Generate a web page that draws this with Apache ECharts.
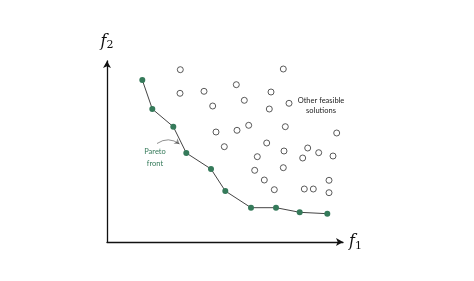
<!DOCTYPE html>
<html>
<head>
<meta charset="utf-8">
<script src="https://cdn.jsdelivr.net/npm/echarts@6/dist/echarts.min.js"></script>
<style>
  html, body { margin: 0; padding: 0; background: #fff; }
  #chart { width: 474px; height: 281px; }
</style>
</head>
<body>
<div id="chart"></div>
<script>
// pareto front points (f1, f2)
const paretoF1 = [35.3, 45.3, 66.3, 79.3, 104, 118.3, 144, 169, 192.7, 220.3];
const paretoF2 = [162, 133, 115.3, 89, 73, 51, 34.3, 34.3, 29.7, 28.3];

// other feasible (dominated) solutions
const otherF1 = [73.3, 176.3, 129.3, 73, 97, 164, 137.3, 182, 105.7, 162.3, 141.7, 130, 178.3, 109, 229.7,
  159.7, 117.3, 200.7, 211.7, 177, 150.3, 195.7, 226, 176.3, 147.7, 157.3, 222, 167.3, 197.3, 206.3, 222];
const otherF2 = [172.3, 173, 157.3, 148.7, 150.7, 150, 141.7, 138.7, 136, 133, 116.7, 111.7, 115.3, 110, 109,
  99, 95.3, 94, 89.3, 91, 85.3, 84, 86, 74.3, 71.7, 62, 61.7, 52.3, 53, 53, 49.3];

// annotation arrow from label to the front
const arrowFrom = [50, 98.5];
const arrowTo = [72.5, 98];

const green = '#357a5a';

const chart = echarts.init(document.getElementById('chart'));

const zip = (a, b) => a.map((v, i) => [v, b[i]]);

const option = {
    animation: false,
    backgroundColor: '#fff',
    grid: { left: 107, right: 131, top: 61, bottom: 39 },
    xAxis: {
        type: 'value', min: 0, max: 236,
        axisLine: { show: true, symbol: ['none', 'arrow'], symbolSize: [6, 7], lineStyle: { color: '#111', width: 1.3 } },
        axisTick: { show: false }, axisLabel: { show: false }, splitLine: { show: false },
        name: '{f|f}{s|1}', nameLocation: 'end', nameGap: 6,
        nameTextStyle: {
            rich: {
                f: { fontFamily: 'DejaVu Serif', fontStyle: 'italic', fontSize: 16, color: '#111' },
                s: { fontFamily: 'DejaVu Serif', fontSize: 11, color: '#111', verticalAlign: 'bottom', padding: [8, 0, 0, 0] }
            }
        }
    },
    yAxis: {
        type: 'value', min: 0, max: 181,
        axisLine: { show: true, symbol: ['none', 'arrow'], symbolSize: [6, 7], lineStyle: { color: '#111', width: 1.3 } },
        axisTick: { show: false }, axisLabel: { show: false }, splitLine: { show: false },
        name: '{f|f}{s|2}', nameLocation: 'end', nameGap: 10,
        nameTextStyle: {
            align: 'center',
            rich: {
                f: { fontFamily: 'DejaVu Serif', fontStyle: 'italic', fontSize: 16, color: '#111' },
                s: { fontFamily: 'DejaVu Serif', fontSize: 11, color: '#111', verticalAlign: 'bottom', padding: [8, 0, 0, 0] }
            }
        }
    },
    graphic: [
        {
            type: 'text',
            style: {
                text: 'Pareto\nfront', align: 'center', lineHeight: 11.5,
                font: '7.5px Lato', fill: green
            },
            x: 155, y: 146
        },
        {
            type: 'text',
            style: {
                text: 'Other feasible\nsolutions', align: 'center', lineHeight: 10.7,
                font: '7.5px Lato', fill: '#222'
            },
            x: 321, y: 95
        }
    ],
    series: [
        {
            type: 'scatter',
            data: zip(otherF1, otherF2),
            symbol: 'circle', symbolSize: 6,
            itemStyle: { color: '#fff', borderColor: '#333', borderWidth: 1 },
            z: 2
        },
        {
            type: 'line',
            data: zip(paretoF1, paretoF2),
            symbol: 'circle', symbolSize: 6, showSymbol: true,
            lineStyle: { color: '#444', width: 1 },
            itemStyle: { color: green, borderWidth: 0 },
            z: 3
        },
        {
            type: 'lines',
            coordinateSystem: 'cartesian2d',
            data: [{ coords: [arrowFrom, arrowTo] }],
            symbol: ['none', 'arrow'], symbolSize: 5,
            lineStyle: { color: '#222', width: 1, curveness: 0.35 },
            z: 4
        }
    ]
};

chart.setOption(option);
</script>
</body>
</html>
